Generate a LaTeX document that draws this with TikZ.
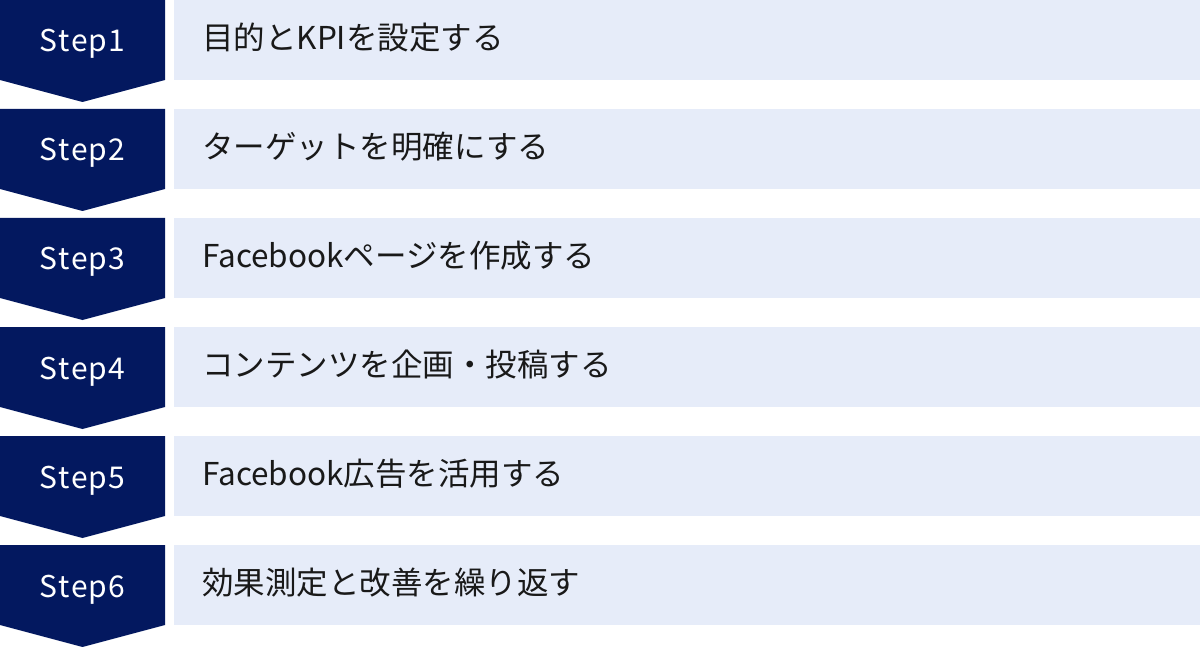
\documentclass[tikz,border=0pt]{standalone}
\usepackage{fontspec}
\setmainfont{Noto Sans CJK JP}
\definecolor{navy}{HTML}{03185F}
\definecolor{pale}{HTML}{E6ECF9}
\begin{document}
\begin{tikzpicture}[x=1pt,y=-1pt,
  stepshape/.style={fill=navy,draw=none},
  barbox/.style={fill=pale,draw=none},
  steplabel/.style={text=white,font=\fontsize{30}{34}\selectfont,inner sep=0pt,anchor=base},
  barlabel/.style={text=black!90,font=\fontsize{31.5}{36}\selectfont,inner sep=0pt,anchor=base west}]
\useasboundingbox (0,0) rectangle (1200,647);
\foreach \i/\t in {1/目的とKPIを設定する,2/ターゲットを明確にする,3/Facebookページを作成する,4/コンテンツを企画・投稿する,5/Facebook広告を活用する,6/効果測定と改善を繰り返す}{
  \pgfmathsetmacro{\y}{(\i-1)*109}
  \fill[stepshape] (0,\y) -- (165,\y) -- (165,\y+80) -- (82.5,\y+102) -- (0,\y+80) -- cycle;
  \fill[barbox] (174,\y) rectangle (1200,\y+80);
  \node[steplabel] (s\i) at (82.5,\y+52) {S\kern1pt t\kern1pt e\kern1pt p\kern1pt\i};
  \node[barlabel] (b\i) at (202,\y+49.5) {\t};
}
\end{tikzpicture}
\end{document}
